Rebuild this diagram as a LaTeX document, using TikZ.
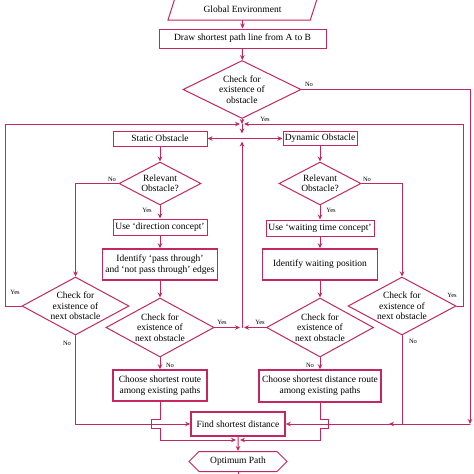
\documentclass[tikz,border=0pt]{standalone}
\usepackage{fontspec}
\setmainfont{Liberation Serif}
\usetikzlibrary{shapes.geometric,shapes.symbols,arrows.meta}

\begin{document}
\begin{tikzpicture}
	[x=1pt,y=-1pt,line cap=round,
	%Styles
	line/.style={draw=flow,line width=1pt},
	arr/.style={line,-{Stealth[length=5pt,width=4.5pt]}},
	box/.style={draw=flow,line width=1pt,inner sep=0pt,align=center,font=\fontsize{9.5}{11}\selectfont},
	bigbox/.style={box,line width=1.5pt},
	ask/.style={draw=flow,line width=1pt,shape=diamond,aspect=2,inner sep=0pt,align=center,font=\fontsize{9.5}{10.5}\selectfont},
	tag/.style={font=\fontsize{6.5}{7}\selectfont,inner sep=0pt}
	]
	
	%Colors
	\definecolor{flow}{RGB}{194,39,96}	%lines and frames
	
	\useasboundingbox (0,0) rectangle (474,474);
	
	%The graphic
	\node[trapezium,trapezium left angle=45,trapezium right angle=135,trapezium stretches body,draw=flow,line width=1pt,minimum width=149pt,minimum height=21pt,inner sep=0pt,font=\fontsize{9.5}{11}\selectfont] (env) at (242.5,9.5) {Global Environment};
	\node[box,minimum width=167pt,minimum height=19pt] (path) at (242.5,38.5) {Draw shortest path line from A to B};
	\node[ask,minimum width=118pt,minimum height=58pt] (check) at (242,89.5) {Check for\\existence of\\obstacle};
	
	\coordinate (jA) at (242,124);
	\coordinate (jB) at (242,138.5);
	\coordinate (jC) at (242,327.5);
	\coordinate (jD) at (238,440);
	\coordinate (lA) at (5,124);
	\coordinate (rA) at (463.5,124);
	\coordinate (rB) at (470,424);
	\coordinate (rC) at (389,424);
	\coordinate (bot) at (238,478);
	
	%static side
	\node[box,minimum width=94pt,minimum height=15pt] (static) at (160,138.5) {Static Obstacle};
	\node[ask,minimum width=82pt,minimum height=43pt] (srel) at (160,183.5) {Relevant\\Obstacle?};
	\node[box,minimum width=94pt,minimum height=16pt] (sdir) at (160,227) {Use `direction concept'};
	\node[bigbox,minimum width=115pt,minimum height=31pt] (spass) at (160,264.5) {Identify `pass through'\\and `not pass through' edges};
	\node[ask,minimum width=108pt,minimum height=59pt] (snext) at (160,327.5) {Check for\\existence of\\next obstacle};
	\node[bigbox,minimum width=94pt,minimum height=31pt] (sroute) at (160,385.5) {Choose shortest route\\among existing paths};
	\node[ask,minimum width=107pt,minimum height=58pt] (lnext) at (75.5,306) {Check for\\existence of\\next obstacle};
	
	%dynamic side
	\node[box,minimum width=74pt,minimum height=14pt] (dyn) at (320,138.5) {Dynamic Obstacle};
	\node[ask,minimum width=82pt,minimum height=43pt] (drel) at (320,183.5) {Relevant\\Obstacle?};
	\node[box,minimum width=108pt,minimum height=16pt] (dwait) at (320,228) {Use `waiting time concept'};
	\node[bigbox,minimum width=115pt,minimum height=31pt] (dpos) at (320,264.5) {Identify waiting position};
	\node[ask,minimum width=107pt,minimum height=59pt] (dnext) at (320,327.5) {Check for\\existence of\\next obstacle};
	\node[bigbox,minimum width=122pt,minimum height=32pt] (droute) at (320,386) {Choose shortest distance route\\among existing paths};
	\node[ask,minimum width=108pt,minimum height=58pt] (rnext) at (402,306) {Check for\\existence of\\next obstacle};
	
	\node[bigbox,minimum width=94pt,minimum height=24pt] (find) at (238,424) {Find shortest distance};
	\node[signal,signal to=west and east,signal pointer angle=90,draw=flow,line width=1pt,minimum width=98pt,minimum height=20pt,inner sep=0pt,font=\fontsize{9.5}{11}\selectfont] (opt) at (238,461.5) {Optimum Path};
	
	%connectors
	\draw[arr] (env.south) -- (path.north);
	\draw[arr] (path) -- (check);
	\draw[arr] (check.south) -- (jA);
	\draw[arr,shorten >=5pt] (jA) -- (jB);
	\draw[arr] (jB) -- (static);
	\draw[arr] (jB) -- (dyn);
	\draw[arr,shorten >=3pt] (jC) -- (jB);
	\draw[arr] (check.east) -| (rB);
	\draw[arr] (rB) -- (rC);
	\draw[arr,shorten >=2pt] (lnext.west) -| (lA) -- (jA);
	\draw[arr,shorten >=2pt] (rnext.east) -| (rA) -- (jA);
	
	\draw[arr] (static) -- (srel);
	\draw[arr] (srel.west) -| (lnext.north);
	\draw[arr] (srel) -- (sdir);
	\draw[arr] (sdir) -- (spass);
	\draw[arr] (spass) -- (snext);
	\draw[arr,shorten >=2pt] (snext.east) -- (jC);
	\draw[arr] (snext) -- (sroute);
	\draw[arr,shorten >=2pt] (sroute.south) -- ++(0,17.5) -- ++(-9,0) -- ++(0,9) -- ++(9,0) |- (jD);
	\draw[arr] (lnext.south) |- (find.west);
	
	\draw[arr] (dyn) -- (drel);
	\draw[arr] (drel.east) -| (rnext.north);
	\draw[arr] (drel) -- (dwait);
	\draw[arr] (dwait) -- (dpos);
	\draw[arr] (dpos) -- (dnext);
	\draw[arr,shorten >=2pt] (dnext.west) -- (jC);
	\draw[arr] (dnext) -- (droute);
	\draw[arr,shorten >=2pt] (droute.south) -- ++(0,17) -- ++(8,0) -- ++(0,9) -- ++(-8,0) |- (jD);
	\draw[arr] (rnext.south) |- (find.east);
	
	\draw[arr] (find) -- (opt);
	\draw[line] (opt.south) -- (bot);
	
	%labels
	\node[tag] (noTop) at (309,84) {No};
	\node[tag] (yesTop) at (265,119) {Yes};
	\node[tag] (noSrel) at (112,179) {No};
	\node[tag] (yesSrel) at (147,210) {Yes};
	\node[tag] (yesSnext) at (222,322) {Yes};
	\node[tag] (noSnext) at (170,365) {No};
	\node[tag] (yesLnext) at (15,292) {Yes};
	\node[tag] (noLnext) at (67,343) {No};
	\node[tag] (noDrel) at (367,179) {No};
	\node[tag] (yesDrel) at (331,210) {Yes};
	\node[tag] (yesDnext) at (260,322) {Yes};
	\node[tag] (noDnext) at (310,365) {No};
	\node[tag] (yesRnext) at (452,295) {Yes};
	\node[tag] (noRnext) at (413,341) {No};
\end{tikzpicture}
\end{document}
